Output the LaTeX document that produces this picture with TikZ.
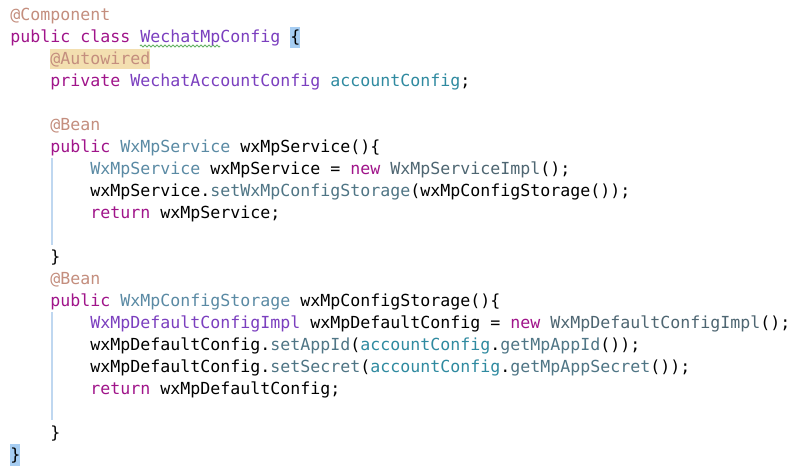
\documentclass[tikz,border=0pt]{standalone}
\usepackage{fontspec}
\setmonofont{DejaVu Sans Mono}
\usetikzlibrary{decorations.pathmorphing}
\definecolor{ckw}{HTML}{A0148A}
\definecolor{ccl}{HTML}{7B3FBF}
\definecolor{cif}{HTML}{5A8AA4}
\definecolor{can}{HTML}{C48E7E}
\definecolor{cfd}{HTML}{2F8AA0}
\definecolor{cmc}{HTML}{4F7585}
\definecolor{cct}{HTML}{4E6672}
\definecolor{chl}{HTML}{A6CDF2}
\definecolor{cgd}{HTML}{BFD7F0}
\definecolor{cyl}{HTML}{F3DFB0}
\newcommand\Kw[1]{\textcolor{ckw}{#1}}
\newcommand\Cl[1]{\textcolor{ccl}{#1}}
\newcommand\If[1]{\textcolor{cif}{#1}}
\newcommand\An[1]{\textcolor{can}{#1}}
\newcommand\Fd[1]{\textcolor{cfd}{#1}}
\newcommand\Mc[1]{\textcolor{cmc}{#1}}
\newcommand\Ct[1]{\textcolor{cct}{#1}}
\tikzset{codeline/.style={anchor=base west,inner sep=0pt,font=\ttfamily\fontsize{12.46}{14}\selectfont,text=black}}
\begin{document}
\begin{tikzpicture}[x=0.75pt,y=-0.75pt]
\useasboundingbox[fill=white] (0,0) rectangle (802,474);
% highlights
\fill[cyl] (50,49) rectangle (150,69);
\fill[chl] (290,27) rectangle (300,48);
\fill[chl] (10,444) rectangle (20,466);
\draw[cgd,line width=0.8pt] (52,158) -- (52,245);
\draw[cgd,line width=0.8pt] (52,312) -- (52,420);
\draw[green!50!black!60,line width=0.6pt,decorate,decoration={zigzag,segment length=3pt,amplitude=0.8pt}] (140,46) -- (220,46);
\def\lh{21.95}
\node[codeline] (l1) at (10,21) {\An{@Component}};
\node[codeline] (l2) at (10,21+\lh) {\Kw{public} \Kw{class} \Cl{WechatMpConfig} \{};
\node[codeline] (l3) at (50,21+2*\lh) {\An{@Autowired}};
\node[codeline] (l4) at (50,21+3*\lh) {\Kw{private} \Cl{WechatAccountConfig} \Fd{accountConfig};};
\node[codeline] (l6) at (50,21+5*\lh) {\An{@Bean}};
\node[codeline] (l7) at (50,21+6*\lh) {\Kw{public} \If{WxMpService} wxMpService()\{};
\node[codeline] (l8) at (90,21+7*\lh) {\If{WxMpService} wxMpService = \Kw{new} \Ct{WxMpServiceImpl}();};
\node[codeline] (l9) at (90,21+8*\lh) {wxMpService.\Mc{setWxMpConfigStorage}(wxMpConfigStorage());};
\node[codeline] (l10) at (90,21+9*\lh) {\Kw{return} wxMpService;};
\node[codeline] (l12) at (50,21+11*\lh) {\}};
\node[codeline] (l13) at (50,21+12*\lh) {\An{@Bean}};
\node[codeline] (l14) at (50,21+13*\lh) {\Kw{public} \If{WxMpConfigStorage} wxMpConfigStorage()\{};
\node[codeline] (l15) at (90,21+14*\lh) {\Cl{WxMpDefaultConfigImpl} wxMpDefaultConfig = \Kw{new} \Ct{WxMpDefaultConfigImpl}();};
\node[codeline] (l16) at (90,21+15*\lh) {wxMpDefaultConfig.\Mc{setAppId}(\Fd{accountConfig}.\Mc{getMpAppId}());};
\node[codeline] (l17) at (90,21+16*\lh) {wxMpDefaultConfig.\Mc{setSecret}(\Fd{accountConfig}.\Mc{getMpAppSecret}());};
\node[codeline] (l18) at (90,21+17*\lh) {\Kw{return} wxMpDefaultConfig;};
\node[codeline] (l20) at (50,21+19*\lh) {\}};
\node[codeline] (l21) at (10,21+20*\lh) {\}};
\end{tikzpicture}
\end{document}
